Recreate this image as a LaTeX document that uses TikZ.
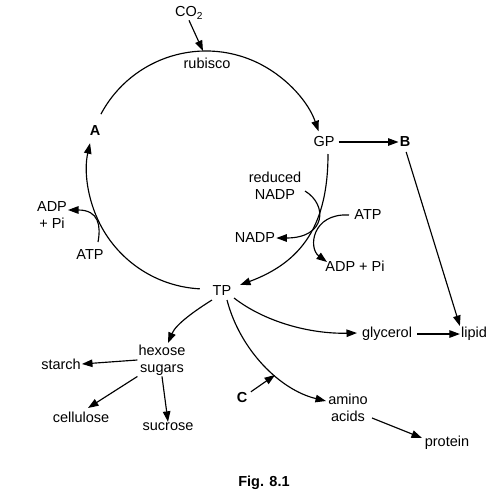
\documentclass[tikz,border=0pt]{standalone}
\usepackage{fontspec}
\setmainfont{Liberation Sans}
\usetikzlibrary{arrows.meta,calc}
\begin{document}
\begin{tikzpicture}[x=1pt,y=1pt,
  lbl/.style={inner sep=1pt, font=\fontsize{14.5}{17}\selectfont, align=center},
  bl/.style={inner sep=1pt, font=\fontsize{14.5}{17}\selectfont\bfseries, align=center},
  arr/.style={line width=1.15pt, -{Triangle[length=10.5pt,width=7.5pt]}}]
\useasboundingbox (0,0) rectangle (499,-498);
% labels
\node[lbl] (co2) at (189,-13) {CO\textsubscript{2}};
\node[lbl] (rub) at (207,-63) {rubisco};
\node[bl] (A) at (95,-131) {A};
\node[lbl] (gp) at (324,-142) {GP};
\node[bl] (B) at (405,-142) {B};
\node[lbl] (rn) at (275,-186) {reduced\\NADP};
\node[lbl] (atpR) at (368,-215) {ATP};
\node[lbl] (nadp) at (255,-238) {NADP};
\node[lbl] (adpR) at (355,-266) {ADP + Pi};
\node[lbl] (adpL) at (52,-215) {ADP\\+ Pi};
\node[lbl] (atpL) at (90,-255) {ATP};
\node[lbl] (tp) at (222,-291) {TP};
\node[lbl] (hex) at (162,-360) {hexose\\sugars};
\node[lbl] (starch) at (61,-364) {starch};
\node[lbl] (cell) at (81,-417) {cellulose};
\node[lbl] (suc) at (168,-427) {sucrose};
\node[lbl] (gly) at (387,-334) {glycerol};
\node[lbl] (lipid) at (474,-334) {lipid};
\node[bl] (C) at (242,-398) {C};
\node[lbl] (amino) at (348,-408) {amino\\acids};
\node[lbl] (prot) at (447,-443) {protein};
\node[bl] (fig) at (264,-483) {Fig. 8.1};
% coordinates
\coordinate (c) at (206,-170);
\coordinate (ctop) at (203,-51);
\coordinate (arcA) at ($(c)+(152:119)$);
\coordinate (arcT) at ($(c)+(-93:119)$);
\coordinate (gps) at (328,-154);
\coordinate (tpe) at (240,-285);
\coordinate (rns) at (305,-191);
\coordinate (atps) at (349,-215);
\coordinate (adpRw) at (327,-262);
\coordinate (atpLs) at (98,-242);
\coordinate (adpLe) at (68,-210);
\coordinate (tpsw) at (212,-300);
\coordinate (hexn) at (168,-343);
\coordinate (tpse) at (234,-298);
\coordinate (glyw) at (357,-333);
\coordinate (tps) at (227,-300);
\coordinate (aminow) at (326,-401);
\coordinate (cpt) at (275,-375);
\coordinate (acidse) at (372,-418);
\coordinate (protw) at (422,-438);
\coordinate (celln) at (88,-408);
% Calvin cycle
\draw[arr] (co2.south) -- (ctop);
\draw[arr] (arcA) arc[start angle=152, end angle=19, radius=119];
\draw[arr] (arcT) arc[start angle=267, end angle=167, radius=119];
\draw[arr] (gps) .. controls (328,-225) and (302,-262) .. (tpe);
\draw[arr] (rns) .. controls (328,-205) and (326,-238) .. (nadp.east);
\draw[arr] (atps) .. controls (312,-213) and (308,-248) .. (adpRw);
\draw[arr] (atpLs) .. controls (101,-226) and (99,-210) .. (adpLe);
% products
\draw[arr, shorten <=3pt] (gp) -- (B);
\draw[arr, shorten <=4pt] (B.south) -- (lipid.north west);
\draw[arr, shorten <=4pt] (gly) -- (lipid);
\draw[arr] (tpsw) .. controls (196,-310) and (176,-324) .. (hexn);
\draw[arr] (hex.west) -- (starch.east);
\draw[arr] (hex.south west) -- (celln);
\draw[arr] (hex.south) -- (suc.north);
\draw[arr] (tpse) .. controls (265,-322) and (310,-334) .. (glyw);
\draw[arr] (tps) .. controls (240,-350) and (280,-390) .. (aminow);
\draw[arr, shorten <=3pt] (C) -- (cpt);
\draw[arr] (acidse) -- (protw);
\end{tikzpicture}
\end{document}
